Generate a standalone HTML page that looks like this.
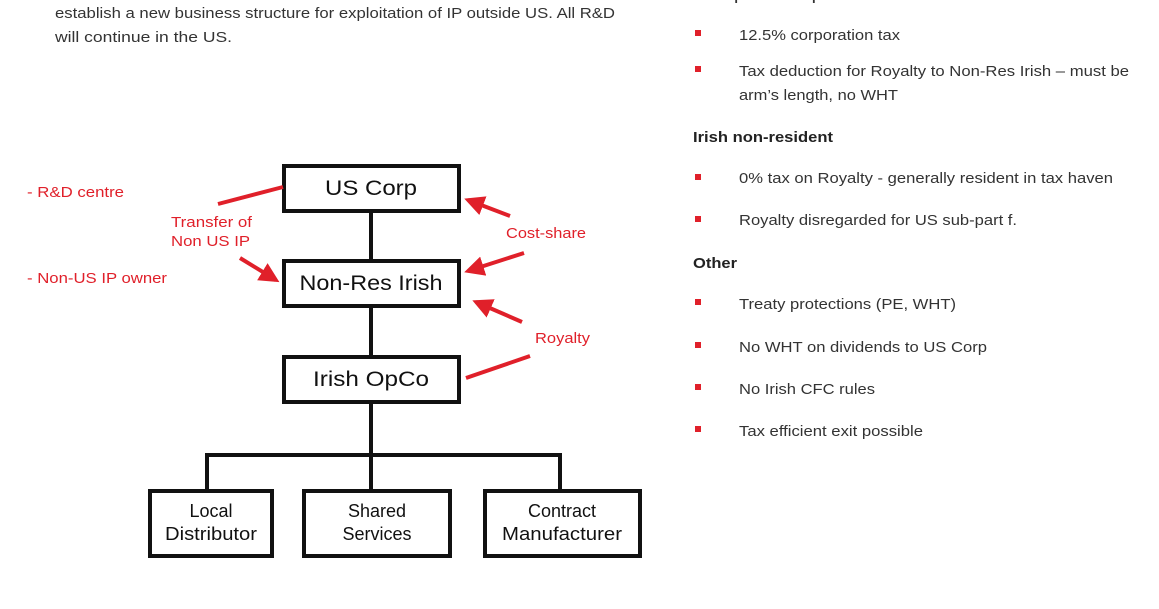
<!DOCTYPE html>
<html><head><meta charset="utf-8"><style>
html,body{margin:0;padding:0;background:#fff;}
svg{display:block;}
text{font-family:"Liberation Sans Narrow","Liberation Sans",sans-serif;}
</style></head><body>
<svg width="1159" height="609" viewBox="0 0 1159 609" xmlns="http://www.w3.org/2000/svg">
<defs>
<marker id="ah" viewBox="0 0 10 10" refX="8" refY="5" markerWidth="5" markerHeight="5" orient="auto"><path d="M0,0 L10,5 L0,10 z" fill="#e0202a"/></marker>
</defs>
<g fill="#333" font-size="15">
<text x="55" y="18" textLength="560" lengthAdjust="spacingAndGlyphs">establish a new business structure for exploitation of IP outside US. All R&amp;D</text>
<text x="55" y="42" textLength="177" lengthAdjust="spacingAndGlyphs">will continue in the US.</text>
<text x="693" y="0" font-weight="bold" textLength="180" lengthAdjust="spacingAndGlyphs">Irish OpCo – tax implications</text>
<text x="739" y="40" textLength="161" lengthAdjust="spacingAndGlyphs">12.5% corporation tax</text>
<text x="739" y="76" textLength="390" lengthAdjust="spacingAndGlyphs">Tax deduction for Royalty to Non-Res Irish – must be</text>
<text x="739" y="100" textLength="159" lengthAdjust="spacingAndGlyphs">arm’s length, no WHT</text>
<text x="693" y="142" font-weight="bold" fill="#222" textLength="140" lengthAdjust="spacingAndGlyphs">Irish non-resident</text>
<text x="739" y="183" textLength="374" lengthAdjust="spacingAndGlyphs">0% tax on Royalty - generally resident in tax haven</text>
<text x="739" y="225" textLength="278" lengthAdjust="spacingAndGlyphs">Royalty disregarded for US sub-part f.</text>
<text x="693" y="268" font-weight="bold" fill="#222" textLength="44" lengthAdjust="spacingAndGlyphs">Other</text>
<text x="739" y="309" textLength="217" lengthAdjust="spacingAndGlyphs">Treaty protections (PE, WHT)</text>
<text x="739" y="352" textLength="248" lengthAdjust="spacingAndGlyphs">No WHT on dividends to US Corp</text>
<text x="739" y="394" textLength="136" lengthAdjust="spacingAndGlyphs">No Irish CFC rules</text>
<text x="739" y="436" textLength="184" lengthAdjust="spacingAndGlyphs">Tax efficient exit possible</text>
</g>
<g fill="#e0202a">
<rect x="695" y="30" width="6" height="6"/><rect x="695" y="66" width="6" height="6"/>
<rect x="695" y="174" width="6" height="6"/><rect x="695" y="216" width="6" height="6"/>
<rect x="695" y="299" width="6" height="6"/><rect x="695" y="342" width="6" height="6"/>
<rect x="695" y="384" width="6" height="6"/><rect x="695" y="426" width="6" height="6"/>
</g>
<g stroke="#111" stroke-width="4" fill="none">
<line x1="371" y1="211" x2="371" y2="262"/>
<line x1="371" y1="306" x2="371" y2="357"/>
<line x1="371" y1="402" x2="371" y2="455"/>
<line x1="205" y1="455" x2="562" y2="455"/>
<line x1="207" y1="455" x2="207" y2="492"/>
<line x1="371" y1="455" x2="371" y2="492"/>
<line x1="560" y1="455" x2="560" y2="492"/>
</g>
<g stroke="#111" stroke-width="4" fill="#fff">
<rect x="284" y="166" width="175" height="45"/>
<rect x="284" y="261" width="175" height="45"/>
<rect x="284" y="357" width="175" height="45"/>
<rect x="150" y="491" width="122" height="65"/>
<rect x="304" y="491" width="146" height="65"/>
<rect x="485" y="491" width="155" height="65"/>
</g>
<g fill="#111" font-size="21" text-anchor="middle">
<text x="371" y="195" textLength="92" lengthAdjust="spacingAndGlyphs">US Corp</text>
<text x="371" y="290" textLength="143" lengthAdjust="spacingAndGlyphs">Non-Res Irish</text>
<text x="371" y="386" textLength="116" lengthAdjust="spacingAndGlyphs">Irish OpCo</text>
</g>
<g fill="#111" font-size="18" text-anchor="middle">
<text x="211" y="517">Local</text><text x="211" y="540" textLength="92" lengthAdjust="spacingAndGlyphs">Distributor</text>
<text x="377" y="517">Shared</text><text x="377" y="540">Services</text>
<text x="562" y="517">Contract</text><text x="562" y="540" textLength="120" lengthAdjust="spacingAndGlyphs">Manufacturer</text>
</g>
<g fill="#e0202a" font-size="15">
<text x="27" y="197" textLength="97" lengthAdjust="spacingAndGlyphs">- R&amp;D centre</text>
<text x="27" y="283" textLength="140" lengthAdjust="spacingAndGlyphs">- Non-US IP owner</text>
<text x="171" y="227" textLength="81" lengthAdjust="spacingAndGlyphs">Transfer of</text>
<text x="171" y="246" textLength="79" lengthAdjust="spacingAndGlyphs">Non US IP</text>
<text x="506" y="238" textLength="80" lengthAdjust="spacingAndGlyphs">Cost-share</text>
<text x="535" y="343" textLength="55" lengthAdjust="spacingAndGlyphs">Royalty</text>
</g>
<g stroke="#e0202a" stroke-width="4" fill="none">
<line x1="218" y1="204" x2="283" y2="187"/>
<line x1="240" y1="258" x2="276" y2="280" marker-end="url(#ah)"/>
<line x1="510" y1="216" x2="468" y2="200" marker-end="url(#ah)"/>
<line x1="524" y1="253" x2="468" y2="271" marker-end="url(#ah)"/>
<line x1="522" y1="322" x2="476" y2="302" marker-end="url(#ah)"/>
<line x1="466" y1="378" x2="530" y2="356"/>
</g>
</svg>
</body></html>
